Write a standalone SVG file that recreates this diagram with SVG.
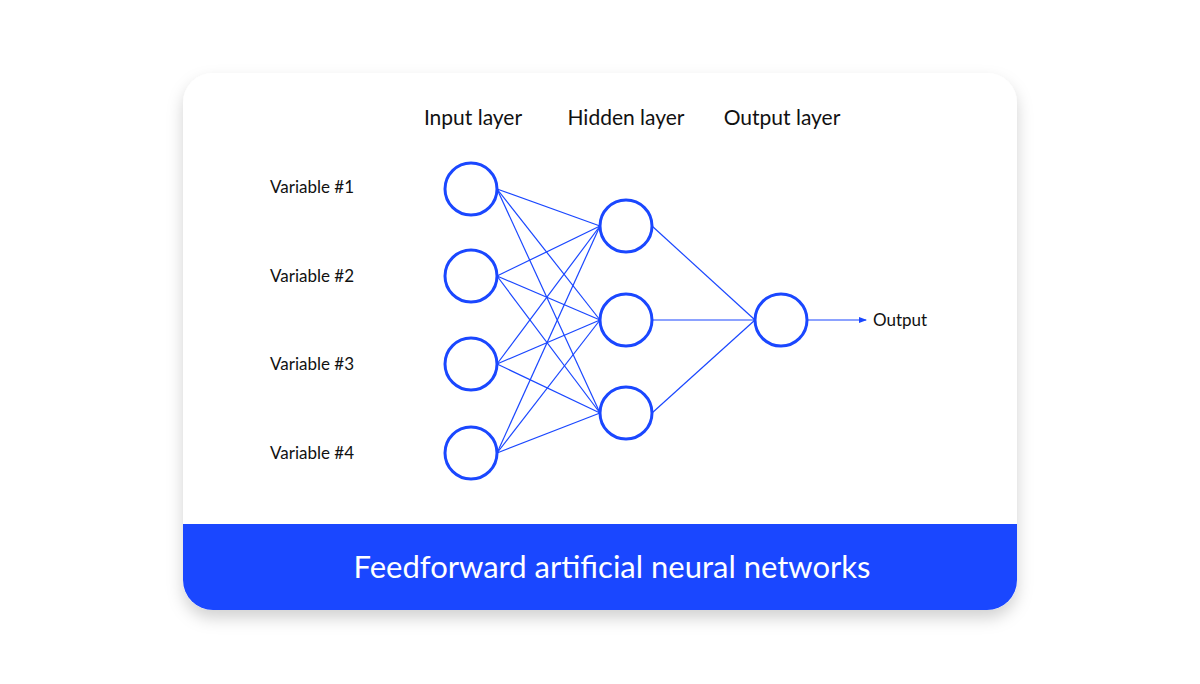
<svg xmlns="http://www.w3.org/2000/svg" width="1200" height="684" viewBox="0 0 1200 684">
<style>
.n{fill:#fff;stroke:#1a47ff;stroke-width:3}
.c line{stroke:#1a47ff;stroke-width:1.2}
.t{font-family:"Lato","Liberation Sans",sans-serif;fill:#111}
</style>
<defs>
<filter id="sh" x="-10%" y="-10%" width="120%" height="130%"><feDropShadow dx="0" dy="8" stdDeviation="8" flood-color="#000" flood-opacity="0.18"/></filter>
<clipPath id="cp"><rect x="183" y="73" width="834" height="537" rx="30"/></clipPath>
<marker id="ar" markerWidth="8" markerHeight="6" refX="7" refY="3" orient="auto" markerUnits="userSpaceOnUse"><path d="M0,0L8,3L0,6z" fill="#1a47ff"/></marker>
</defs>
<rect width="1200" height="684" fill="#fff"/>
<rect x="183" y="73" width="834" height="537" rx="30" fill="#fff" filter="url(#sh)"/>
<rect x="183" y="524" width="834" height="86" fill="#1a47ff" clip-path="url(#cp)"/>
<text x="612" y="578" text-anchor="middle" font-size="31" fill="#fff" font-family="Lato,'Liberation Sans',sans-serif">Feedforward artificial neural networks</text>
<g class="t" font-size="21">
<text x="473" y="125" text-anchor="middle">Input layer</text>
<text x="626" y="125" text-anchor="middle">Hidden layer</text>
<text x="782" y="125" text-anchor="middle">Output layer</text>
</g>
<g class="t" font-size="17">
<text x="270" y="193">Variable #1</text>
<text x="270" y="282">Variable #2</text>
<text x="270" y="370">Variable #3</text>
<text x="270" y="459">Variable #4</text>
<text x="873" y="326">Output</text>
</g>
<g class="c" id="connectors">
<line x1="497" y1="189" x2="600" y2="226"/><line x1="497" y1="189" x2="600" y2="320"/><line x1="497" y1="189" x2="600" y2="413"/>
<line x1="497" y1="276" x2="600" y2="226"/><line x1="497" y1="276" x2="600" y2="320"/><line x1="497" y1="276" x2="600" y2="413"/>
<line x1="497" y1="364" x2="600" y2="226"/><line x1="497" y1="364" x2="600" y2="320"/><line x1="497" y1="364" x2="600" y2="413"/>
<line x1="497" y1="453" x2="600" y2="226"/><line x1="497" y1="453" x2="600" y2="320"/><line x1="497" y1="453" x2="600" y2="413"/>
<line x1="652" y1="226" x2="755" y2="320"/><line x1="652" y1="320" x2="755" y2="320"/><line x1="652" y1="413" x2="755" y2="320"/>
<line x1="807" y1="320" x2="866" y2="320" marker-end="url(#ar)"/>
</g>
<g id="in1"><circle class="n" cx="471" cy="189" r="26"/></g>
<g id="in2"><circle class="n" cx="471" cy="276" r="26"/></g>
<g id="in3"><circle class="n" cx="471" cy="364" r="26"/></g>
<g id="in4"><circle class="n" cx="471" cy="453" r="26"/></g>
<g id="h1"><circle class="n" cx="626" cy="226" r="26"/></g>
<g id="h2"><circle class="n" cx="626" cy="320" r="26"/></g>
<g id="h3"><circle class="n" cx="626" cy="413" r="26"/></g>
<g id="out"><circle class="n" cx="781" cy="320" r="26"/></g>
</svg>
